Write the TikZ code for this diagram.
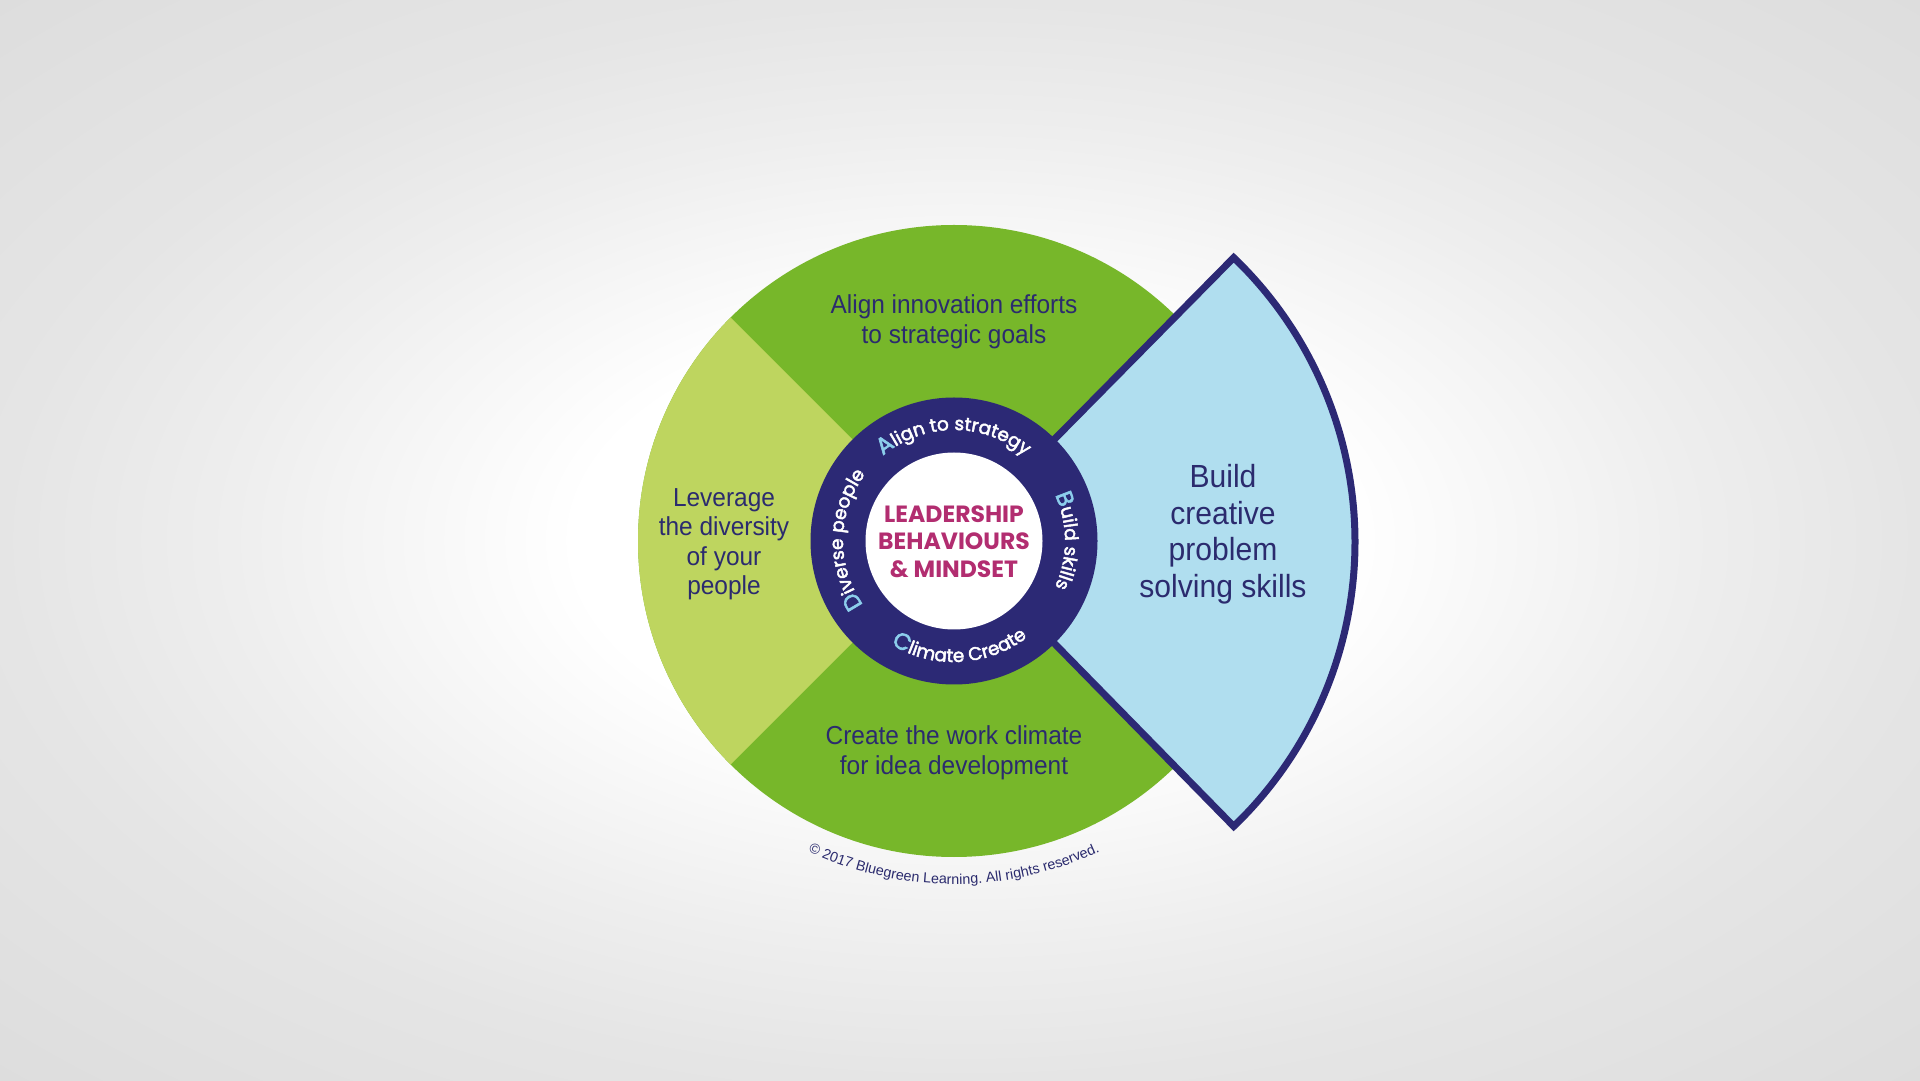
\documentclass[tikz,border=0pt]{standalone}
\usepackage{fontspec}
\setmainfont{Liberation Sans}
\newfontfamily\lab{Liberation Sans}[FakeStretch=0.94]
\newfontfamily\ringfont{Poppins}[FakeBold=2.5]
\newfontfamily\ctrfont{Poppins}
\usetikzlibrary{decorations.text,calc}
\definecolor{dkgreen}{RGB}{119,183,42}
\definecolor{ltgreen}{RGB}{190,213,95}
\definecolor{ltblue}{RGB}{176,222,239}
\definecolor{navy}{RGB}{44,41,117}
\definecolor{txtnavy}{RGB}{43,43,110}
\definecolor{magent}{RGB}{178,45,112}
\definecolor{initblue}{RGB}{140,206,236}
\definecolor{bgmid}{RGB}{238,238,238}
\definecolor{bgedge}{RGB}{229,229,229}
\definecolor{bgcorner}{RGB}{221,221,221}
\pgfdeclareradialshading{bgshade}{\pgfpoint{0bp}{0bp}}{color(0bp)=(white); color(20bp)=(white); color(38bp)=(bgmid); color(50bp)=(bgedge); color(71bp)=(bgcorner)}
\newcommand\rinit{\ringfont\fontsize{23}{23}\selectfont\color{initblue}}
\newcommand\rrest{\ringfont\fontsize{18.5}{18.5}\selectfont\color{white}}
\newcommand\copyfmt{\fontsize{14.3}{14.3}\selectfont\color{txtnavy}}
\tikzset{
  lbl/.style={text=txtnavy, align=center, inner sep=0pt},
  smalllbl/.style={lbl, font=\lab\fontsize{26}{29.5}\selectfont},
  biglbl/.style={lbl, font=\lab\fontsize{32}{36.5}\selectfont},
  ctrlbl/.style={text=magent, align=center, inner sep=0pt, font=\ctrfont\bfseries\fontsize{23.5}{27.5}\selectfont},
  wedge/.style={fill=ltblue, draw=navy, line width=7pt, line join=miter},
}
\begin{document}
\begin{tikzpicture}[x=1pt,y=1pt]
\useasboundingbox (0,0) rectangle (1920,1080);
\begin{scope}
  \clip (0,0) rectangle (1920,1080);
  \pgftransformshift{\pgfpoint{960pt}{540pt}}
  \pgftransformxscale{19.128}
  \pgftransformyscale{10.76}
  \pgflowlevelsynccm
  \pgfuseshading{bgshade}
\end{scope}
\coordinate (O) at (954,539);
\coordinate (W) at (961,538);
% green disc
\fill[dkgreen] (O) circle[radius=316];
\begin{scope}
  \clip (O) circle[radius=316];
  \fill[ltgreen] (O) -- ($(O)+(135:600)$) -- ($(O)+(225:600)$) -- cycle;
\end{scope}
% blue wedge
\filldraw[wedge] (O) -- ($(W)+(46.2:394)$) arc[start angle=46.2, end angle=-46.2, radius=394] -- cycle;
% ring
\fill[navy] (O) circle[radius=143.5];
\fill[white] (O) circle[radius=88.5];
% ring texts
\path[decorate, decoration={text along path, text align=center,
  text={|\rinit|A|\rrest|lign to strategy}}]
  ($(O)+(160:111)$) arc[start angle=160, end angle=20, radius=111];
\path[decorate, decoration={text along path, text align=center,
  text={|\rinit|B|\rrest|uild skills}}]
  ($(O)+(70:111)$) arc[start angle=70, end angle=-70, radius=111];
\path[decorate, decoration={text along path, text align=center,
  text={|\rinit|D|\rrest|iverse people}}]
  ($(O)+(249:111)$) arc[start angle=249, end angle=109, radius=111];
\path[decorate, decoration={text along path, text align=center,
  text={|\rinit|C|\rrest|limate Create}}]
  ($(O)+(203:121)$) arc[start angle=203, end angle=343, radius=121];
% labels
\node[smalllbl] (align) at (954,758) {Align innovation efforts\\to strategic goals};
\node[smalllbl] (leverage) at (724,535.5) {Leverage\\the diversity\\of your\\people};
\node[smalllbl] (create) at (954,327) {Create the work climate\\for idea development};
\node[biglbl] (build) at (1223,546) {Build\\creative\\problem\\solving skills};
\node[ctrlbl] (centre) at (954,538.5) {LEADERSHIP\\BEHAVIOURS\\\& MINDSET};
% copyright
\path[decorate, decoration={text along path, text align=center,
  text={|\copyfmt|© 2017 Bluegreen Learning. All rights reserved.}}]
  ($(O)+(200:343)$) arc[start angle=200, end angle=340, radius=343];
\end{tikzpicture}
\end{document}
